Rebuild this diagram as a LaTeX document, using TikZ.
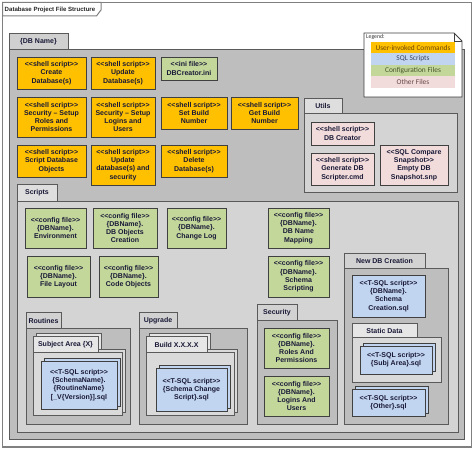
\documentclass[tikz,border=0pt]{standalone}
\usepackage{fontspec}
\setmainfont{Liberation Sans}
\newfontfamily\legfont{Carlito}
\usetikzlibrary{calc}
\newcommand\dlt{<\kern0pt<}
\newcommand\dgt{>\kern0pt>}
\definecolor{orn}{RGB}{255,192,0}
\definecolor{grn}{RGB}{196,215,155}
\definecolor{blu}{RGB}{194,213,240}
\definecolor{pnk}{RGB}{242,220,219}
\definecolor{boxc}{RGB}{64,64,64}
\definecolor{flc}{RGB}{90,90,90}
\definecolor{framec}{RGB}{128,128,128}
\definecolor{txtc}{RGB}{25,25,55}
\definecolor{tabA}{RGB}{208,208,208}
\definecolor{bodyA}{RGB}{190,190,190}
\definecolor{tabB}{RGB}{222,222,222}
\definecolor{bodyB}{RGB}{212,212,212}
\definecolor{tabC}{RGB}{210,210,210}
\definecolor{bodyC}{RGB}{190,190,190}
\definecolor{tabD}{RGB}{230,230,230}
\definecolor{bodyD}{RGB}{218,218,218}
\definecolor{lt1}{RGB}{110,70,0}
\definecolor{lt2}{RGB}{60,70,100}
\definecolor{lt3}{RGB}{70,85,45}
\definecolor{lt4}{RGB}{100,70,70}
\tikzset{
  boxline/.style={draw=boxc,line width=0.8pt},
  fline/.style={draw=flc,line width=0.8pt},
  box/.style={boxline,inner sep=0pt,align=center,text=txtc,
    font=\fontsize{7}{8.3}\selectfont\bfseries},
  tablabel/.style={inner sep=0pt,text=txtc,font=\fontsize{7}{8.3}\selectfont\bfseries},
  legrow/.style={inner sep=0pt,minimum width=84pt,minimum height=11.5pt,
    font=\legfont\fontsize{7.4}{8}\selectfont}
}
% box: name, x1, y1, x2, y2, fill, text
\newcommand\bx[7]{%
  \pgfmathsetmacro\bw{#4-#2}\pgfmathsetmacro\bh{#5-#3}%
  \node[box,fill=#6,minimum width=\bw pt,minimum height=\bh pt] (#1)
    at ({(#2+#4)/2},{(#3+#5)/2}) {#7};}
% stacked box
\newcommand\sbx[7]{%
  \draw[boxline,fill=#6] ({#2+3},{#3-3}) rectangle ({#4+3},{#5-3});
  \bx{#1}{#2}{#3}{#4}{#5}{#6}{#7}}
% folder: level, name, x1, ytab, xtab2, ybody, x2, y2, label
\newcommand\fold[9]{%
  \draw[fline,fill=tab#1] (#3,#4) rectangle (#5,#6);
  \draw[fline,fill=body#1] (#3,#6) rectangle (#7,#8);
  \node[tablabel] (#2) at ({(#3+#5)/2},{(#4+#6)/2+0.5}) {#9};}
\newcommand\sfold[9]{%
  \draw[fline,fill=tab#1] ({#3+3},{#4-3}) rectangle ({#5+3},{#6-3});
  \draw[fline,fill=body#1] ({#3+3},{#6-3}) rectangle ({#7+3},{#8-3});
  \fold{#1}{#2}{#3}{#4}{#5}{#6}{#7}{#8}{#9}}
\begin{document}
\begin{tikzpicture}[x=1pt,y=-1pt]
\useasboundingbox[fill=white] (0,0) rectangle (474,465);
% outer frame
\draw[draw=framec,line width=1.6pt,fill=white] (2.5,2.5) rectangle (471.5,447);
\draw[draw=framec,line width=1pt,fill=white] (2.5,2.5) -- (101,2.5) -- (101,10) -- (96.5,16) -- (2.5,16) -- cycle;
\node[inner sep=0pt,text=black!85,font=\fontsize{6.1}{7}\selectfont\bfseries] (title) at (50,9.5) {Database Project File Structure};

% DB Name folder
\fold{A}{dbname}{9}{33}{68}{49}{464}{439}{\{DB Name\}}

% orange commands
\bx{cdb}{17}{57}{86}{89}{orn}{\dlt shell script\dgt\\Create\\Database(s)}
\bx{udb}{91}{57}{155}{89}{orn}{\dlt shell script\dgt\\Update\\Database(s)}
\bx{ini}{161}{57}{217}{80}{grn}{\dlt ini file\dgt\\DBCreator.ini}
\bx{secr}{17}{97}{86}{137}{orn}{\dlt shell script\dgt\\Security – Setup\\Roles and\\Permissions}
\bx{secl}{91}{97}{155}{137}{orn}{\dlt shell script\dgt\\Security – Setup\\Logins and\\Users}
\bx{sbn}{161}{97}{227}{129}{orn}{\dlt shell script\dgt\\Set Build\\Number}
\bx{gbn}{231}{97}{298}{129}{orn}{\dlt shell script\dgt\\Get Build\\Number}
\bx{sdo}{17}{145}{86}{177}{orn}{\dlt shell script\dgt\\Script Database\\Objects}
\bx{uds}{91}{145}{155}{185}{orn}{\dlt shell script\dgt\\Update\\database(s) and\\security}
\bx{ddb}{161}{145}{227}{177}{orn}{\dlt shell script\dgt\\Delete\\Database(s)}

% Utils
\fold{B}{utils}{304}{98}{342}{113}{457}{192}{Utils}
\bx{dbc}{311}{122}{374}{145}{pnk}{\dlt shell script\dgt\\DB Creator}
\bx{gen}{311}{153}{374}{185}{pnk}{\dlt shell script\dgt\\Generate DB\\Scripter.cmd}
\bx{snp}{380}{145}{448}{185}{pnk}{\dlt SQL Compare\\Snapshot\dgt\\Empty DB\\Snapshot.snp}

% Scripts
\fold{B}{scripts}{17}{184}{57}{201}{458}{432}{Scripts}
\bx{env}{25}{208}{86}{248}{grn}{\dlt config file\dgt\\\{DBName\}.\\Environment}
\bx{dboc}{93}{208}{157}{248}{grn}{\dlt config file\dgt\\\{DBName\}.\\DB Objects\\Creation}
\bx{chl}{167}{208}{226}{248}{grn}{\dlt config file\dgt\\\{DBName\}.\\Change Log}
\bx{fl}{27}{256}{90}{297}{grn}{\dlt config file\dgt\\\{DBName\}.\\File Layout}
\bx{co}{99}{256}{158}{297}{grn}{\dlt config file\dgt\\\{DBName\}.\\Code Objects}
\bx{dbnm}{268}{208}{329}{248}{grn}{\dlt config file\dgt\\\{DBName\}.\\DB Name\\Mapping}
\bx{ss}{268}{256}{329}{297}{grn}{\dlt config file\dgt\\\{DBName\}.\\Schema\\Scripting}

% Routines
\fold{C}{routines}{26}{312}{61}{328}{130}{424}{Routines}
\sfold{D}{subj}{33}{336}{98}{352}{122}{415}{Subject Area \{X\}}
\sbx{rout}{41}{361}{117}{409}{blu}{\dlt T-SQL script\dgt\\\{SchemaName\}.\\\{RoutineName\}\\{}[\_V\{Version\}].sql}

% Upgrade
\fold{C}{upgrade}{139}{312}{177}{328}{247}{424}{Upgrade}
\sfold{D}{build}{146}{336}{207}{352}{234}{415}{Build X.X.X.X}
\sbx{upg}{156}{368}{227}{411}{blu}{\dlt T-SQL script\dgt\\\{Schema Change\\Script\}.sql}

% Security
\fold{C}{security}{257}{304}{297}{320}{337}{424}{Security}
\bx{rap}{264}{328}{329}{368}{grn}{\dlt config file\dgt\\\{DBName\}.\\Roles And\\Permissions}
\bx{lau}{264}{376}{329}{416}{grn}{\dlt config file\dgt\\\{DBName\}.\\Logins And\\Users}

% New DB Creation
\fold{C}{newdb}{344}{253}{425}{268}{448}{424}{New DB Creation}
\bx{sc}{352}{275}{425}{317}{blu}{\dlt T-SQL script\dgt\\\{DBName\}.\\Schema\\Creation.sql}
\fold{D}{static}{352}{323}{417}{337}{441}{382}{Static Data}
\sbx{subjsql}{360}{346}{432}{374}{blu}{\dlt T-SQL script\dgt\\\{Subj Area\}.sql}
\sbx{oth}{352}{389}{425}{416}{blu}{\dlt T-SQL script\dgt\\\{Other\}.sql}

% Legend
\draw[draw=boxc,line width=0.8pt,fill=white] (364,33) -- (454,33) -- (462,41) -- (462,97) -- (364,97) -- cycle;
\draw[draw=boxc,line width=0.6pt] (454,33) -- (454,41) -- (462,41);
\node[anchor=north west,inner sep=0pt,text=black!80,font=\legfont\fontsize{5.8}{6}\selectfont] (leg) at (366,34.5) {Legend:};
\node[legrow,fill=orn,text=lt1] (l1) at (413,47.5) {User-invoked Commands};
\node[legrow,fill=blu,text=lt2] (l2) at (413,59) {SQL Scripts};
\node[legrow,fill=grn,text=lt3] (l3) at (413,70.5) {Configuration Files};
\node[legrow,fill=pnk,text=lt4] (l4) at (413,82) {Other Files};
\end{tikzpicture}
\end{document}
